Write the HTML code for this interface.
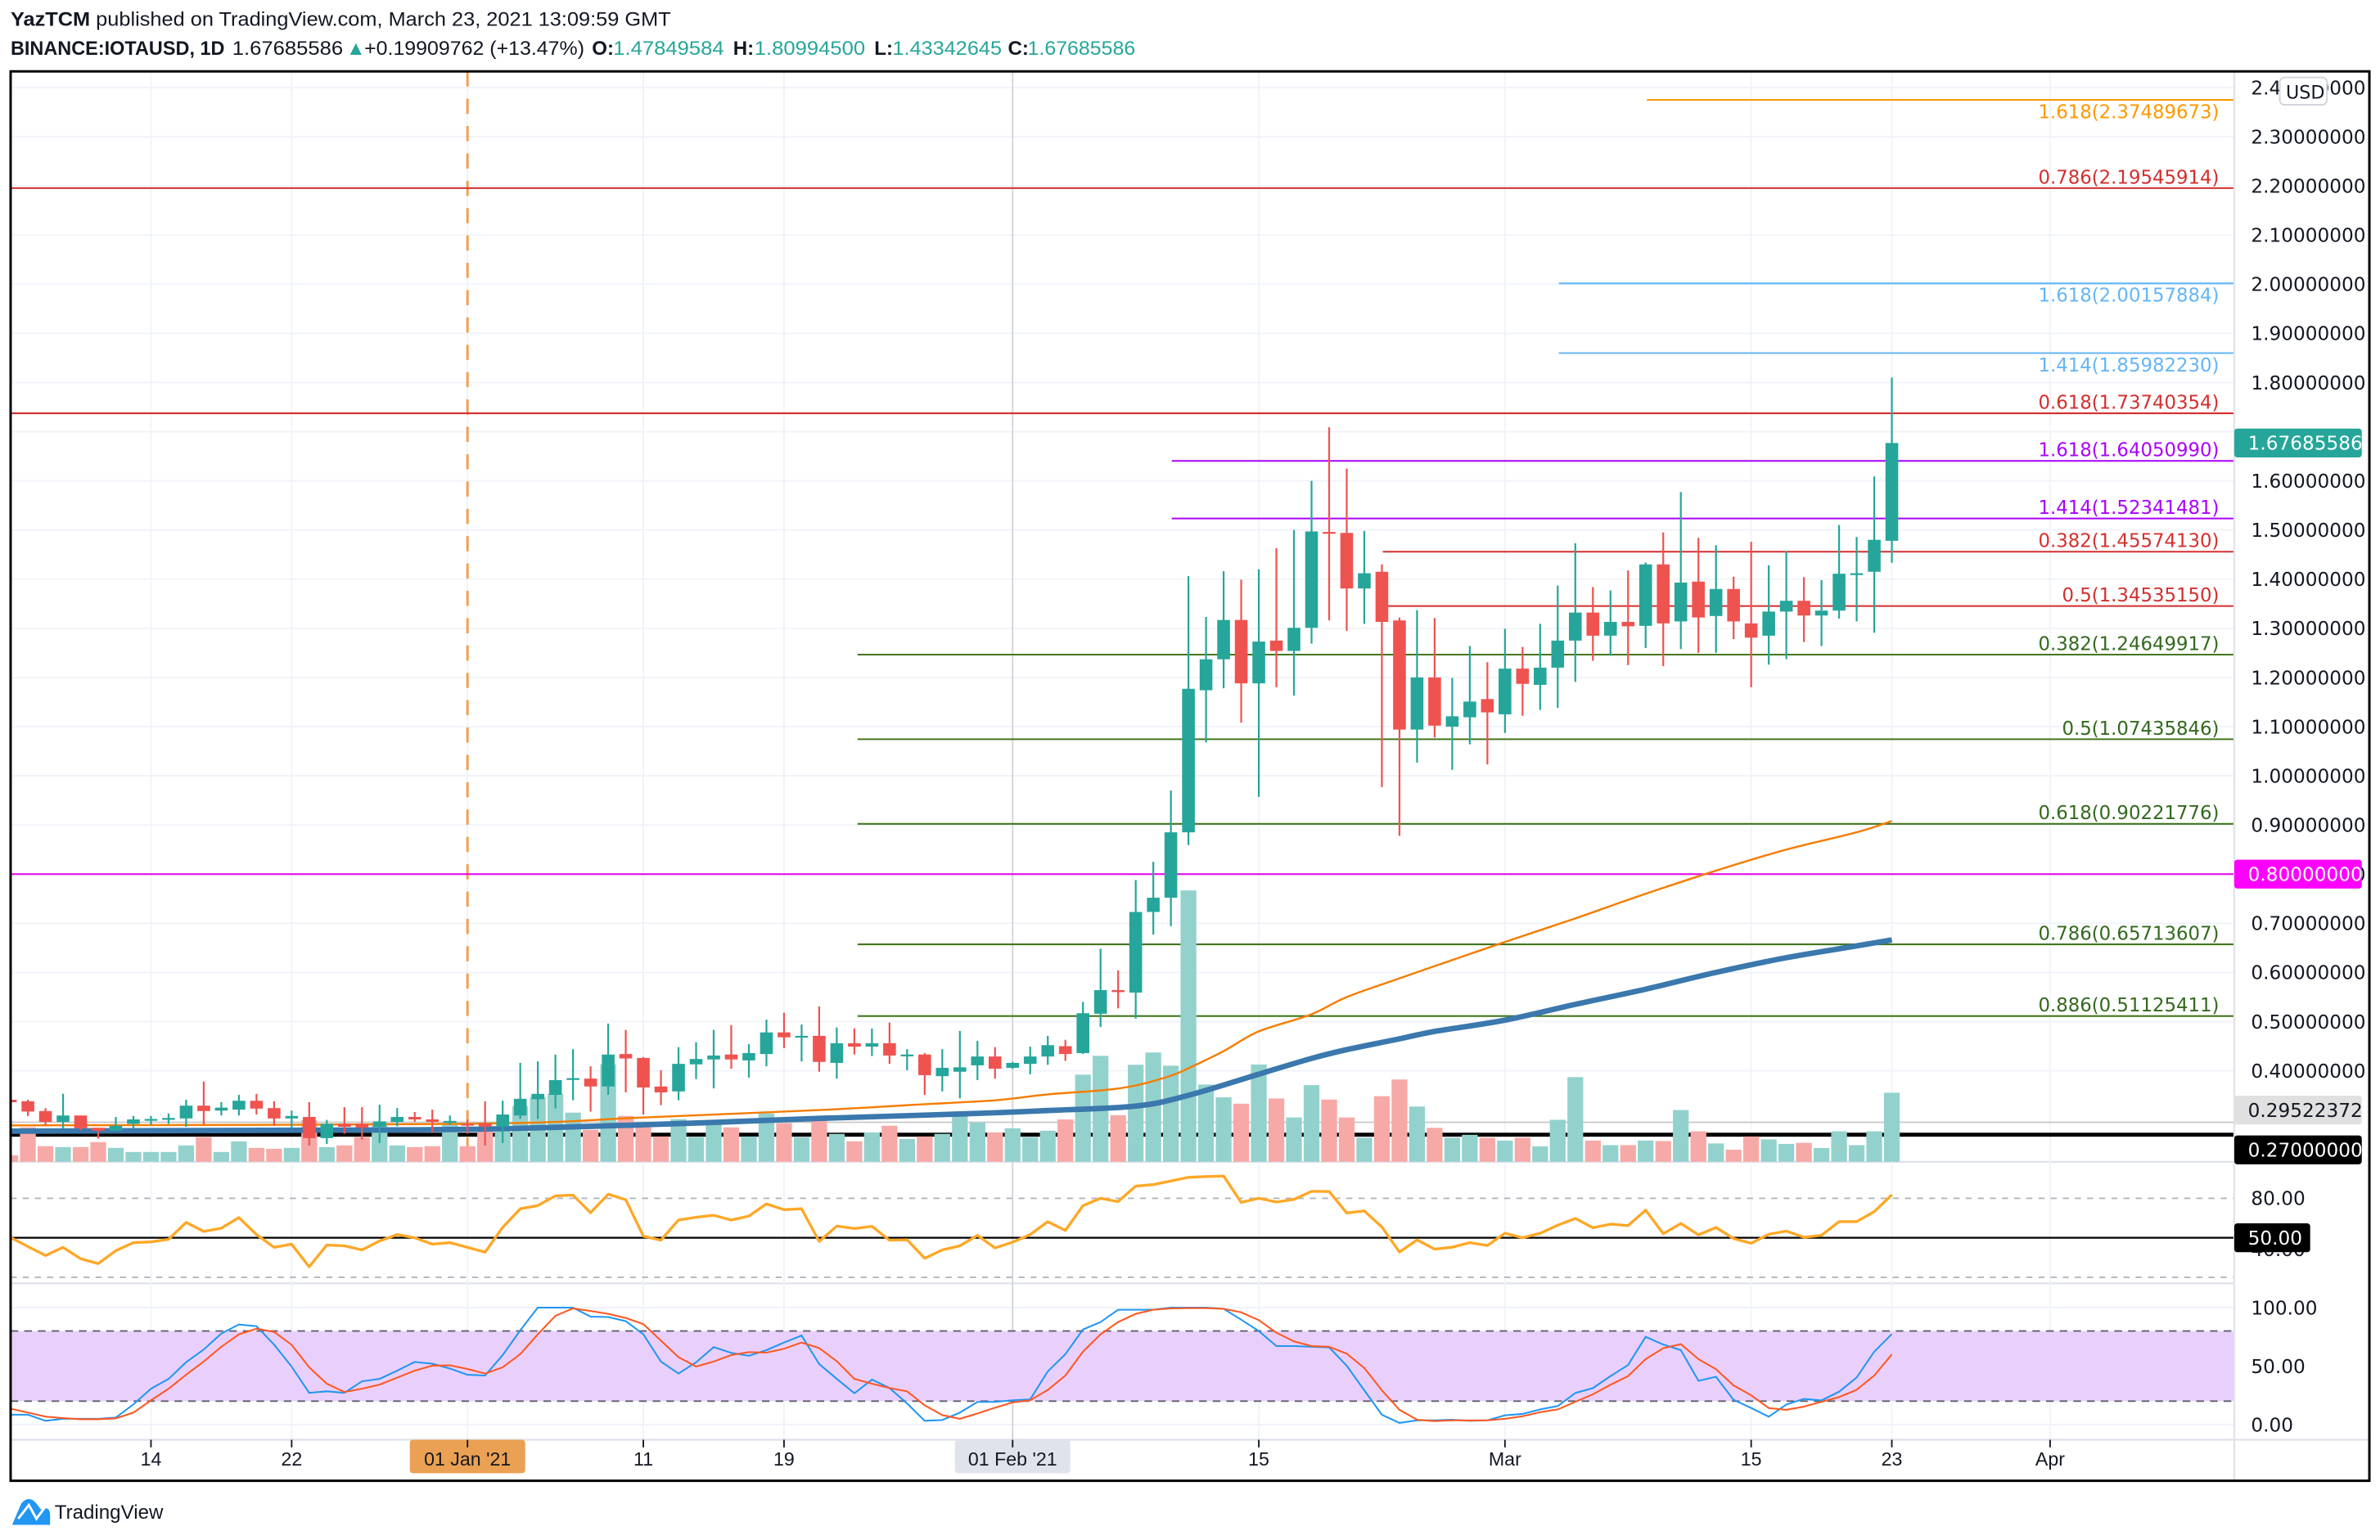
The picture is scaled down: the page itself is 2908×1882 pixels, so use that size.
<!DOCTYPE html>
<html><head><meta charset="utf-8"><title>IOTAUSD chart</title>
<style>html,body{margin:0;padding:0;background:#fff;overflow:hidden}svg{display:block}</style></head>
<body>
<svg id="chart" xmlns="http://www.w3.org/2000/svg" width="2908" height="1882" viewBox="0 0 1568 1014" preserveAspectRatio="none" font-family="'DejaVu Sans', sans-serif">
<rect width="1568" height="1014" fill="#fff"/>
<g font-family="'Liberation Sans', sans-serif" font-size="13" fill="#131722">
<text x="7" y="17" textLength="435" lengthAdjust="spacingAndGlyphs"><tspan font-weight="bold">YazTCM</tspan> published on TradingView.com, March 23, 2021 13:09:59 GMT</text>
<text x="7" y="36" font-weight="bold" textLength="141" lengthAdjust="spacingAndGlyphs">BINANCE:IOTAUSD, 1D</text>
<text x="153" y="36" textLength="73" lengthAdjust="spacingAndGlyphs">1.67685586</text>
<text x="228" y="36" fill="#26a69a">▲</text>
<text x="240" y="36" textLength="145" lengthAdjust="spacingAndGlyphs">+0.19909762 (+13.47%)</text>
<text x="390" y="36" font-weight="bold">O:</text><text x="404" y="36" fill="#26a69a" textLength="73" lengthAdjust="spacingAndGlyphs">1.47849584</text>
<text x="483" y="36" font-weight="bold">H:</text><text x="497" y="36" fill="#26a69a" textLength="73" lengthAdjust="spacingAndGlyphs">1.80994500</text>
<text x="576" y="36" font-weight="bold">L:</text><text x="588" y="36" fill="#26a69a" textLength="72" lengthAdjust="spacingAndGlyphs">1.43342645</text>
<text x="664" y="36" font-weight="bold">C:</text><text x="677" y="36" fill="#26a69a" textLength="71" lengthAdjust="spacingAndGlyphs">1.67685586</text>
</g>
<defs><clipPath id="plotClip"><rect x="7" y="47" width="1465" height="718"/></clipPath>
<clipPath id="paneClip"><rect x="7" y="47" width="1465" height="901"/></clipPath></defs>
<g id="grid"></g>
<g id="fibs" clip-path="url(#paneClip)"></g>
<g id="vol" clip-path="url(#plotClip)"></g>
<g id="mas" clip-path="url(#plotClip)"></g>
<g id="candles" clip-path="url(#plotClip)"></g>
<g id="rsi"></g>
<g id="stoch"></g>
<g id="axes"></g>
<rect x="7" y="47" width="1554" height="928" fill="none" stroke="#000" stroke-width="1.6"/>
<g>
<path d="M8 1004 L14 990 Q19 984 24 990 L27 994 Q33 991 33 998 L33 1004 Z" fill="#2196f3"/>
<path d="M12 1000 L19 991 L24 1000 L30 992" stroke="#fff" stroke-width="1.6" fill="none"/>
<text x="36" y="1000" font-family="'Liberation Sans', sans-serif" font-size="13" fill="#131722">TradingView</text>
</g>
</svg>
<script>
const days=[];for(let d=-26;d<=81;d++)days.push(d);
const open=[.341,.338,.318,.296,.309,.284,.278,.292,.299,.301,.303,.329,.319,.321,.339,.324,.303,.306,.263,.292,.292,.286,.296,.306,.301,.296,.292,.293,.286,.309,.342,.351,.383,.384,.368,.434,.426,.368,.358,.413,.423,.433,.421,.434,.478,.469,.471,.416,.456,.449,.456,.431,.433,.389,.398,.411,.429,.406,.414,.429,.450,.436,.516,.564,.559,.723,.752,.885,1.174,1.237,1.317,1.188,1.275,1.254,1.301,1.496,1.494,1.381,1.415,1.316,1.094,1.200,1.100,1.119,1.156,1.125,1.218,1.185,1.220,1.275,1.332,1.285,1.313,1.305,1.430,1.314,1.395,1.325,1.380,1.310,1.285,1.334,1.356,1.326,1.336,1.410,1.415,1.478];
const high=[.347,.341,.324,.353,.309,.284,.306,.308,.308,.313,.341,.378,.336,.351,.353,.338,.319,.336,.300,.326,.326,.331,.324,.316,.321,.309,.301,.338,.339,.416,.419,.433,.444,.409,.496,.483,.428,.401,.448,.458,.483,.493,.454,.504,.518,.494,.531,.488,.486,.486,.498,.444,.436,.444,.481,.461,.448,.418,.449,.471,.463,.540,.648,.604,.788,.825,.970,1.406,1.323,1.416,1.399,1.420,1.463,1.500,1.600,1.709,1.625,1.498,1.430,1.322,1.337,1.321,1.199,1.264,1.231,1.299,1.262,1.309,1.387,1.473,1.384,1.377,1.418,1.434,1.495,1.577,1.484,1.469,1.405,1.476,1.428,1.457,1.404,1.398,1.510,1.486,1.609,1.810];
const low=[.323,.308,.289,.283,.279,.262,.278,.283,.290,.292,.286,.290,.309,.309,.311,.288,.283,.248,.251,.272,.260,.253,.287,.296,.275,.290,.272,.248,.253,.302,.302,.323,.340,.317,.351,.356,.311,.330,.340,.383,.364,.404,.386,.409,.446,.419,.398,.384,.433,.430,.414,.401,.351,.358,.344,.381,.384,.404,.393,.412,.420,.434,.489,.527,.506,.677,.694,.859,1.068,1.178,1.108,.957,1.180,1.163,1.269,1.316,1.295,1.309,.977,.878,1.027,1.078,1.012,1.064,1.023,1.087,1.122,1.134,1.138,1.191,1.234,1.244,1.225,1.260,1.223,1.258,1.250,1.250,1.278,1.180,1.226,1.237,1.272,1.264,1.320,1.314,1.291,1.433];
const close=[.336,.317,.296,.309,.283,.278,.288,.301,.302,.304,.329,.318,.325,.339,.323,.303,.308,.263,.292,.286,.284,.297,.306,.301,.296,.298,.290,.286,.311,.343,.353,.381,.385,.368,.433,.425,.366,.356,.414,.424,.431,.423,.436,.478,.468,.471,.418,.456,.449,.456,.431,.433,.391,.406,.407,.429,.404,.416,.429,.452,.434,.517,.564,.560,.723,.752,.885,1.177,1.237,1.317,1.188,1.273,1.254,1.301,1.497,1.495,1.381,1.412,1.313,1.094,1.200,1.102,1.121,1.151,1.129,1.218,1.187,1.220,1.275,1.332,1.285,1.313,1.304,1.430,1.310,1.393,1.322,1.380,1.314,1.281,1.334,1.356,1.326,1.336,1.411,1.412,1.480,1.677];
const volume=[4.3,22.7,10.3,9.7,9.7,13,9.2,6.5,6.5,6.5,10.8,16.2,6.5,13.5,9.2,8.6,9.2,27.5,9.7,10.8,16.2,25.9,10.8,9.7,10.3,25.9,10.3,22.7,22.7,36.7,42.7,44.8,32.4,21.1,64.3,30.2,23.2,16.7,28.1,16.2,27,22.7,16.7,31.9,25.4,16.2,29.2,18.4,13.5,19.4,23.8,15.1,16.7,18.4,31.9,25.9,19.4,22.1,16.2,20.5,27.9,57.4,69.8,30.7,63.9,72,63.3,178.7,50.9,42.5,38.3,64.1,41.7,29.2,50.5,41,29.2,15.9,43.2,54.2,36.4,22.4,15.9,17.8,15.9,14,15.9,10.2,27.7,55.8,14,11,11,14,13.7,34.1,20.1,12.1,8,16.7,14.8,11.8,12.5,9.1,20.1,11,20.1,45.5];
const rsi=[50.3,43.3,36.5,42.7,34.1,30.4,40.2,46.3,46.9,48.8,61.6,54.9,57.3,65.3,52.4,42.7,45.1,28,44.5,43.9,40.8,47.6,52.4,50,45.1,46.3,42.7,39,58,72,74.5,81.8,82.4,69,83.1,78.8,51.2,48.2,63.5,65.6,67.1,63.5,66.5,75.7,71.4,72,47.2,58.9,57,58.6,48.2,48.5,34.4,40.8,43.9,51.8,42.3,46.6,52.4,62.2,55.5,74.5,80,77.5,89.2,90.4,93.2,95.9,96.5,96.9,76.9,80,77.1,79.2,85.3,85.1,68.8,70.4,58.2,39.2,48.4,41.4,42.9,46.3,44.1,53.5,50,53.5,59.6,64.7,57.6,60.4,59.2,71,53.1,60.8,52.2,57.8,49.4,45.9,52.7,55.1,50.4,51.8,62.2,62.2,69.8,82.7];
const stochK=[8.5,8.5,3.2,4.9,4.9,4.9,6,17.3,30.6,39.1,53.2,64.1,77.8,85.6,84.2,68.3,49.6,27.1,28.5,27.1,37,39.1,46.1,53.5,52.1,47.9,42.6,41.9,59.5,80.6,100,100,100,92.3,91.9,88.4,77.1,53.9,43.7,53.2,66.2,61.3,58.8,63.7,70.1,76.1,51.8,39.1,26.8,38.4,31.3,18,3.2,3.9,10.2,19.4,19.4,20.8,21.5,45.4,60.2,81.3,87.7,98.2,98.2,98.2,100,100,100,99,89.8,80,67.2,67.2,66.5,66,50.2,29.3,8.4,1.4,3.7,3.7,4.2,3.3,3.7,7.9,9.1,13,15.8,27,31.2,41.4,50.9,75.1,68.4,63.7,37.4,40.9,21.2,14.2,6.7,17.2,21.9,20.7,28.1,40.2,62.3,77.4];
const stochD=[13.7,10.2,6.7,5.6,4.6,4.6,5.3,10.2,20.8,30.6,42.6,53.9,66.5,77.1,82,79.2,68.3,48.9,34.9,27.8,30.6,34.2,40.1,46.1,50.4,50.7,47.5,43.7,48.9,60.2,77.1,93,99.3,97.2,94.7,91.2,85.9,71.8,57.7,49.6,53.9,59.5,62,61.6,64.8,70.1,65.5,54.2,39.1,34.9,31.3,28.5,16.5,8.1,4.9,9.5,14.4,19,20.8,29.6,41.9,62.3,77.1,87.7,94.7,98.2,99.3,99.6,99.6,99,96,89.3,78.6,71.2,67.2,66.5,60.7,48.4,29.3,12.6,4.2,3,3.7,3.5,3.7,4.9,7.2,10.7,13,19.5,25.8,34,41.4,56,65.3,68.8,56,47.4,33.5,25.1,14.2,12.6,15.3,19.5,23.5,29.8,42,60];
const ma50Days=[-26,-10,0,5,10,20,25,30,33,36,38,40,41,43,45,48,50,53,55,59,63,67,71,75,79,81];
const ma50Vals=[.289,.29,.292,.296,.305,.32,.33,.34,.352,.36,.37,.39,.405,.44,.48,.515,.55,.588,.613,.662,.71,.76,.807,.85,.885,.908];
const ma200Days=[-26,-10,0,10,20,28,33,38,41,45,48,50,53,55,59,63,67,71,75,79,81];
const ma200Vals=[.277,.279,.281,.29,.303,.312,.319,.328,.35,.393,.425,.443,.465,.48,.503,.535,.566,.6,.63,.654,.666];
const priceTicks=[2.4,2.3,2.2,2.1,2.0,1.9,1.8,1.7,1.6,1.5,1.4,1.3,1.2,1.1,1.0,0.9,0.8,0.7,0.6,0.5,0.4];
const timeTicks=[-18,-10,0,10,18,31,45,59,73,81,90];
const timeLabels=["14","22","01 Jan '21","11","19","01 Feb '21","15","Mar","15","23","Apr"];
const fibPrices=[2.37489673,2.19545914,2.00157884,1.85982230,1.73740354,1.64050990,1.52341481,1.45574130,1.34535150,1.24649917,1.07435846,0.90221776,0.65713607,0.51125411,0.8];
const fibRatios=["1.618","0.786","1.618","1.414","0.618","1.618","1.414","0.382","0.5","0.382","0.5","0.618","0.786","0.886",""];

const NS="http://www.w3.org/2000/svg";
const X=d=>308+11.585*d;
const Y=p=>90+(2.3-p)*323.7;
const VB=765;
const RY=v=>815-(v-50)*0.8667;
const SY=v=>938-v*0.77;
function mk(tag,attrs,parent){const e=document.createElementNS(NS,tag);for(const k in attrs)e.setAttribute(k,attrs[k]);parent.appendChild(e);return e;}
const G=id=>document.getElementById(id);

const grid=G('grid');
priceTicks.forEach(p=>{const l=mk('line',{x1:7,x2:1472,y1:Y(p),y2:Y(p),stroke:'#f0f3fa','stroke-width':1},grid);

});
[845,861,899,938,948].forEach(y=>{const l=mk('line',{x1:7,x2:1472,y1:y,y2:y,stroke:(y==845||y==948)?'#e0e3eb':'#f0f3fa','stroke-width':1.2},grid);

});
mk('line',{x1:7,x2:1472,y1:765,y2:765,stroke:'#e0e3eb','stroke-width':1.2},grid);
timeTicks.forEach(d=>{const l=mk('line',{x1:X(d),x2:X(d),y1:47,y2:948,stroke:d==31?'#d1d4dc':'#f0f3fa','stroke-width':1},grid);

});
const jd=mk('line',{x1:X(0),x2:X(0),y1:47,y2:765,stroke:'#f0a050','stroke-width':1.6,'stroke-dasharray':'10 8'},grid);



const fibs=G('fibs');
const fibStart=[1085,7,1027,1027,7,772,772,911,911,565,565,565,565,565,7];
const fibColor=['#ff9800','#d32f2f','#64b5f6','#64b5f6','#d32f2f','#aa00ff','#aa00ff','#d32f2f','#d32f2f','#43761f','#43761f','#43761f','#43761f','#43761f','#e600e6'];
const fibBelow=[1,0,1,1,0,0,0,0,0,0,0,0,0,0,0];
fibPrices.forEach((p,i)=>{
 const y=Y(p);
 const l=mk('line',{x1:fibStart[i],x2:1472,y1:y,y2:y,stroke:fibColor[i],'stroke-width':1.1},fibs);
 
 
 if(fibRatios[i]){
  const t=mk('text',{x:1462,y:fibBelow[i]?y+12:y-3,'text-anchor':'end','font-size':12.3,fill:fibColor[i]=='#43761f'?'#33691e':fibColor[i]},fibs);
  t.textContent=fibRatios[i]+'('+p.toFixed(8)+')';
  
  
 }
});
const ref1=mk('line',{x1:7,x2:1472,y1:Y(0.29522372),y2:Y(0.29522372),stroke:'#c8c8c8','stroke-width':1},fibs);


const ref2=mk('line',{x1:7,x2:1472,y1:Y(0.27),y2:Y(0.27),stroke:'#000','stroke-width':2.6},fibs);



const vol=G('vol');
days.forEach((d,i)=>{const up=close[i]>=open[i];
 const r=mk('rect',{x:X(d)-5.2,y:VB-volume[i],width:10.4,height:volume[i],fill:up?'#93d2cc':'#f7a9a7'},vol);
 
 });

const mas=G('mas');
function maPath(ds,vs){
 const P=ds.map((d,i)=>[X(d),Y(vs[i])]);
 let s='M'+P[0][0].toFixed(1)+' '+P[0][1].toFixed(1);
 for(let i=0;i<P.length-1;i++){
  const p0=P[Math.max(0,i-1)],p1=P[i],p2=P[i+1],p3=P[Math.min(P.length-1,i+2)];
  const c1=[p1[0]+(p2[0]-p0[0])/6,p1[1]+(p2[1]-p0[1])/6];
  const c2=[p2[0]-(p3[0]-p1[0])/6,p2[1]-(p3[1]-p1[1])/6];
  s+=' C'+c1[0].toFixed(1)+' '+c1[1].toFixed(1)+' '+c2[0].toFixed(1)+' '+c2[1].toFixed(1)+' '+p2[0].toFixed(1)+' '+p2[1].toFixed(1);
 }
 return s;}
const m2=mk('path',{d:maPath(ma200Days,ma200Vals),fill:'none',stroke:'#3a78ad','stroke-width':3.6,'stroke-linejoin':'round'},mas);


const m1=mk('path',{d:maPath(ma50Days,ma50Vals),fill:'none',stroke:'#f57c00','stroke-width':1.3,'stroke-linejoin':'round'},mas);



const cg=G('candles');
days.forEach((d,i)=>{const up=close[i]>=open[i];const c=up?'#26a69a':'#ef5350';const x=X(d);
 const w=mk('line',{x1:x,x2:x,y1:Y(high[i]),y2:Y(low[i]),stroke:c,'stroke-width':1.2},cg);
 
 
 const t=Y(Math.max(open[i],close[i])),b=Y(Math.min(open[i],close[i]));
 const r=mk('rect',{x:x-4.2,y:t,width:8.4,height:Math.max(1.2,b-t),fill:c},cg);
 
 });

const rg=G('rsi');
[[80,'#b2b5be','4 4'],[20,'#b2b5be','4 4']].forEach(a=>{const l=mk('line',{x1:7,x2:1472,y1:RY(a[0]),y2:RY(a[0]),stroke:a[1],'stroke-dasharray':a[2]},rg);

});
const r50=mk('line',{x1:7,x2:1472,y1:RY(50),y2:RY(50),stroke:'#000','stroke-width':1.2},rg);


const rl=mk('path',{d:days.map((d,i)=>(i?'L':'M')+X(d).toFixed(1)+' '+RY(rsi[i]).toFixed(1)).join(' '),fill:'none',stroke:'#ffa726','stroke-width':1.8,'stroke-linejoin':'round'},rg);



const sg=G('stoch');
const band=mk('rect',{x:7,y:SY(80),width:1465,height:SY(20)-SY(80),fill:'#e9d0fc'},sg);


[80,20].forEach(v=>{const l=mk('line',{x1:7,x2:1472,y1:SY(v),y2:SY(v),stroke:'#5d606b','stroke-dasharray':'5 4','stroke-width':1},sg);

});
const kl=mk('path',{d:days.map((d,i)=>(i?'L':'M')+X(d).toFixed(1)+' '+SY(stochK[i]).toFixed(1)).join(' '),fill:'none',stroke:'#2196f3','stroke-width':1.1},sg);


const dl=mk('path',{d:days.map((d,i)=>(i?'L':'M')+X(d).toFixed(1)+' '+SY(stochD[i]).toFixed(1)).join(' '),fill:'none',stroke:'#ff5722','stroke-width':1.1},sg);



const ax=G('axes');
mk('line',{x1:1472,x2:1472,y1:47,y2:975,stroke:'#e0e3eb','stroke-width':1.2},ax);
mk('line',{x1:7,x2:1561,y1:948,y2:948,stroke:'#e0e3eb','stroke-width':1.2},ax);
function axLabel(txt,y,name){const t=mk('text',{x:1483,y:y+4.5,'font-size':12.5,fill:'#131722'},ax);t.textContent=txt;
 
 }
priceTicks.forEach(p=>{if(Math.abs(p-1.7)>0.01)axLabel(p.toFixed(8),Y(p),'price-tick-label');});
axLabel('80.00',RY(80),'rsi-tick-label');axLabel('40.00',RY(40)-1,'rsi-tick-label');
axLabel('100.00',SY(100),'stoch-tick-label');axLabel('50.00',SY(50),'stoch-tick-label');axLabel('0.00',SY(0),'stoch-tick-label');
function axBox(txt,y,bg,fg,name,w){const g=mk('g',{},ax);
 
 mk('rect',{x:1472,y:y-9.5,width:w||84,height:19,rx:2,fill:bg},g);
 const t=mk('text',{x:1481,y:y+4.5,'font-size':12.5,fill:fg},g);t.textContent=txt;}
axBox('1.67685586',Y(close[close.length-1]),'#26a69a','#fff','last-price-label');
axBox('0.80000000',Y(0.8),'#ff00ff','#fff','level-0-8-label');
axBox('0.29522372',Y(0.29522372)-8,'#e0e0e0','#131722','level-0-295-label');
axBox('0.27000000',Y(0.27)+10,'#000','#fff','level-0-27-label');
axBox('50.00',RY(50),'#000','#fff','rsi-50-label',50);
const usd=mk('g',{},ax);

mk('rect',{x:1502,y:51,width:31,height:18,rx:3,fill:'#fff',stroke:'#d1d4dc'},usd);
const ut=mk('text',{x:1506,y:65,'font-size':12,fill:'#131722'},usd);ut.textContent='USD';
timeTicks.forEach((d,i)=>{const x=X(d);
 if(i==2||i==5){const r=mk('rect',{x:x-38,y:948,width:76,height:22,rx:2,fill:i==2?'#eba153':'#e0e3eb'},ax);
  
  }
 mk('line',{x1:x,x2:x,y1:948,y2:953,stroke:'#131722'},ax);
 const t=mk('text',{x:x,y:965,'text-anchor':'middle','font-family':"'Liberation Sans', sans-serif",'font-size':12.5,fill:'#131722'},ax);t.textContent=timeLabels[i];
 
 });
</script>
</body></html>
